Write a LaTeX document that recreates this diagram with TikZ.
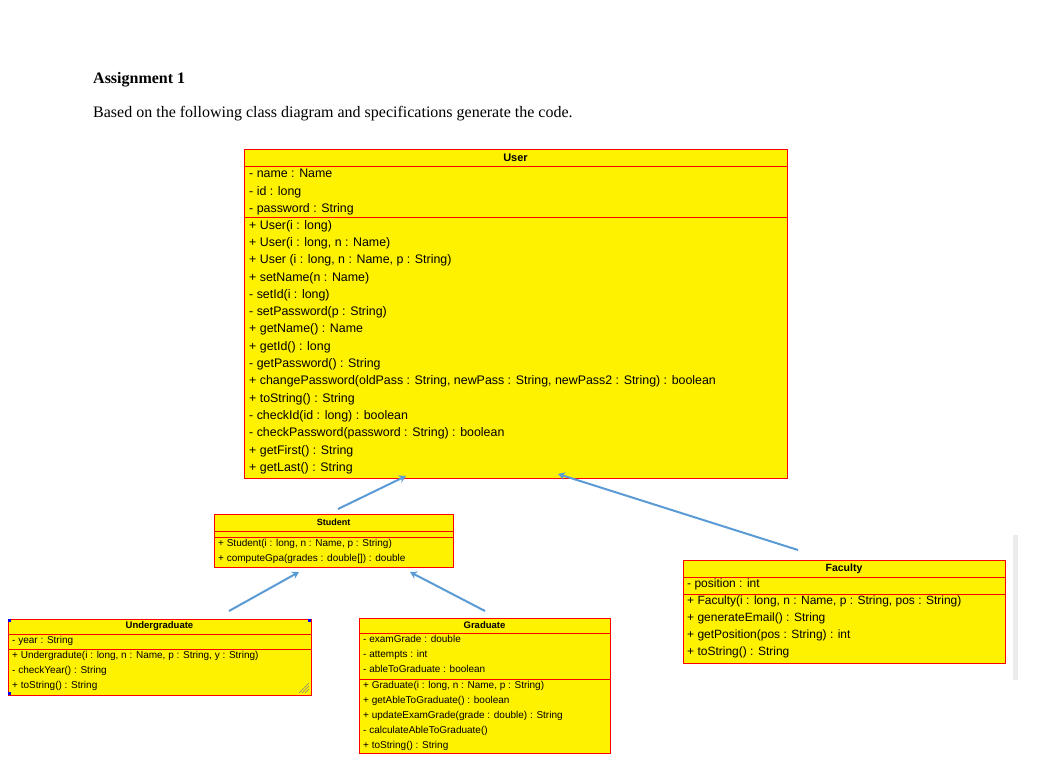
\documentclass[tikz,border=0pt]{standalone}
\usepackage{fontspec}
\setmainfont{Liberation Serif}
\newfontfamily\arial{Liberation Sans}
\usetikzlibrary{arrows.meta}
\tikzset{
  cbox/.style={draw=red, fill=yellow, line width=0.8pt},
  ctitle/.style={font=\arial\bfseries\fontsize{#1}{#1}\selectfont, inner sep=0pt},
  ctext/.style 2 args={font=\arial\fontsize{#1}{#2}\selectfont, align=left, anchor=north west, inner sep=0pt},
  inh/.style={draw={rgb,255:red,91;green,155;blue,213}, line width=2pt, -{Stealth[length=7pt,width=8pt]}}
}
\begin{document}
\begin{tikzpicture}[x=1pt,y=-1pt]
\useasboundingbox (0,0) rectangle (1038,779);
\node[anchor=base west, font=\bfseries\fontsize{16}{18}\selectfont, inner sep=0pt] (t1) at (93,83) {Assignment 1};
\node[anchor=base west, font=\fontsize{16}{18}\selectfont, inner sep=0pt] (t2) at (93,117) {Based on the following class diagram and specifications generate the code.};
% User
\draw[cbox] (244,149) rectangle (787,166);
\draw[cbox] (244,166) rectangle (787,217);
\draw[cbox] (244,217) rectangle (787,478);
\node[ctitle=11] (user) at (515.5,157.5) {User};
\node[ctext={12.4}{17.3}] (ua) at (249,169) {- name : Name\\- id : long\\- password : String};
\node[ctext={12.4}{17.3}] (um) at (249,220) {+ User(i : long)\\+ User(i : long, n : Name)\\+ User (i : long, n : Name, p : String)\\+ setName(n : Name)\\- setId(i : long)\\- setPassword(p : String)\\+ getName() : Name\\+ getId() : long\\- getPassword() : String\\+ changePassword(oldPass : String, newPass : String, newPass2 : String) : boolean\\+ toString() : String\\- checkId(id : long) : boolean\\- checkPassword(password : String) : boolean\\+ getFirst() : String\\+ getLast() : String};
% Student
\draw[cbox] (214,514) rectangle (453,531);
\draw[cbox] (214,531) rectangle (453,537);
\draw[cbox] (214,537) rectangle (453,567);
\node[ctitle=9] (student) at (333.5,522.5) {Student};
\node[ctext={10}{15}] (sm) at (218,539) {+ Student(i : long, n : Name, p : String)\\+ computeGpa(grades : double[]) : double};
% Undergraduate
\draw[cbox] (8,619) rectangle (311,634);
\draw[cbox] (8,634) rectangle (311,649);
\draw[cbox] (8,649) rectangle (311,695);
\node[ctitle=9.5] (under) at (159.5,626.5) {Undergraduate};
\node[ctext={10}{15}] (uga) at (12,636) {- year : String};
\node[ctext={10}{15}] (ugm) at (12,651) {+ Undergradute(i : long, n : Name, p : String, y : String)\\- checkYear() : String\\+ toString() : String};
\fill[blue] (8,619) rectangle (11,622);
\fill[blue] (308,619) rectangle (311,622);
\fill[blue] (8,692) rectangle (11,695);
\draw[gray] (299,693) -- (309,683) (302,693) -- (309,686) (305,693) -- (309,689);
% Graduate
\draw[cbox] (359,618) rectangle (610,633);
\draw[cbox] (359,633) rectangle (610,679);
\draw[cbox] (359,679) rectangle (610,753);
\node[ctitle=9.5] (grad) at (484.5,625.5) {Graduate};
\node[ctext={10}{15}] (ga) at (363,635) {- examGrade : double\\- attempts : int\\- ableToGraduate : boolean};
\node[ctext={10}{15}] (gm) at (363,681) {+ Graduate(i : long, n : Name, p : String)\\+ getAbleToGraduate() : boolean\\+ updateExamGrade(grade : double) : String\\- calculateAbleToGraduate()\\+ toString() : String};
% Faculty
\draw[cbox] (683,560) rectangle (1005,577);
\draw[cbox] (683,577) rectangle (1005,594);
\draw[cbox] (683,594) rectangle (1005,663);
\node[ctitle=10.5] (fac) at (844,568.5) {Faculty};
\node[ctext={12}{17}] (fa) at (687,579) {- position : int};
\node[ctext={12}{17}] (fm) at (687,596) {+ Faculty(i : long, n : Name, p : String, pos : String)\\+ generateEmail() : String\\+ getPosition(pos : String) : int\\+ toString() : String};
\fill[black!8] (1013,535) rectangle (1018,680);
% arrows
\coordinate (s1) at (338,509); \coordinate (s2) at (406,476);
\coordinate (f1) at (798,550); \coordinate (f2) at (558,474);
\coordinate (u1) at (229,611); \coordinate (u2) at (299,572);
\coordinate (g1) at (485,611); \coordinate (g2) at (410,572);
\draw[inh] (s1) -- (s2);
\draw[inh] (f1) -- (f2);
\draw[inh] (u1) -- (u2);
\draw[inh] (g1) -- (g2);
\end{tikzpicture}
\end{document}
